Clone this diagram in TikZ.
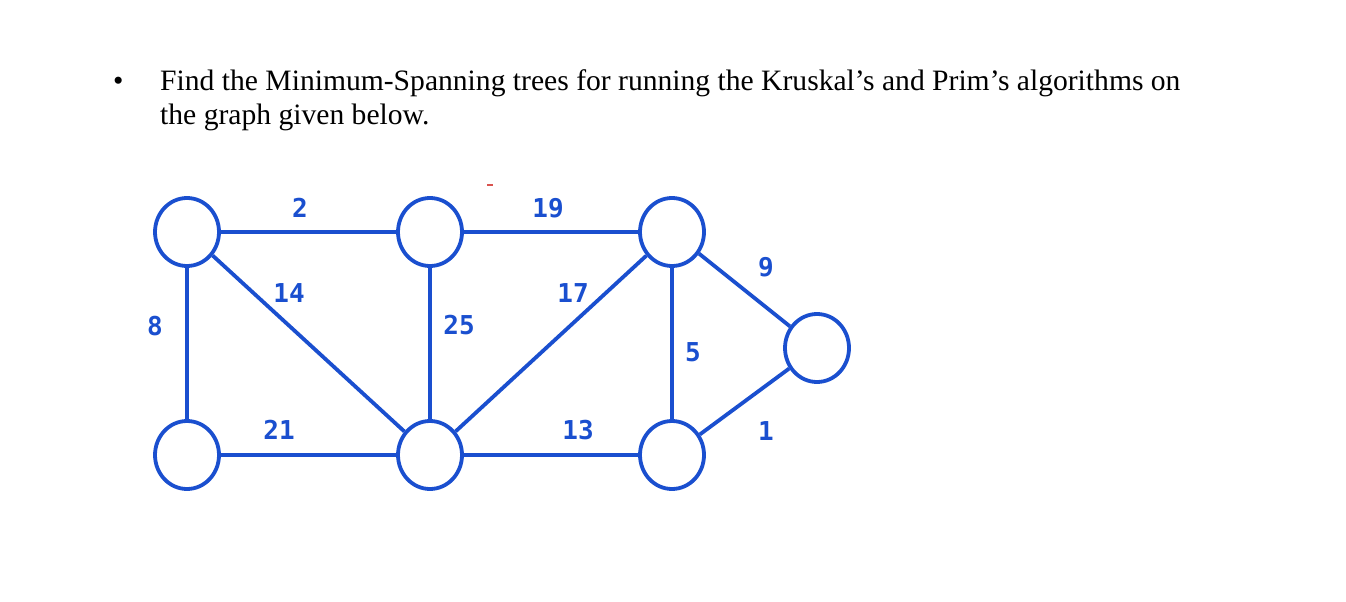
\documentclass[tikz,border=0pt]{standalone}
\usepackage{fontspec}
\usetikzlibrary{shapes.geometric}
\setmainfont{Liberation Serif}
\newfontfamily\numfont{DejaVu Sans Mono}
\definecolor{gblue}{HTML}{1A4FCF}
\definecolor{gred}{HTML}{D9534F}
\begin{document}
\begin{tikzpicture}[x=1pt,y=-1pt,
  vert/.style={draw=gblue,line width=3.8pt,ellipse,minimum width=64pt,minimum height=68pt,inner sep=0pt},
  edge/.style={draw=gblue,line width=3.8pt},
  wlabel/.style={text=gblue,font=\numfont\bfseries\fontsize{26}{30}\selectfont,inner sep=0pt},
  title/.style={font=\fontsize{29.6}{34}\selectfont,anchor=base west,inner sep=0pt}]
\useasboundingbox (0,0) rectangle (1346,602);
\fill[white] (0,0) rectangle (1346,602);
% title
\node[title] (bullet) at (113,90) {\textbullet};
\node[title] (line1) at (160,90) {Find the Minimum-Spanning trees for running the Kruskal’s and Prim’s algorithms on};
\node[title] (line2) at (160,124) {the graph given below.};
% vertices
\node[vert] (A) at (187,232) {};
\node[vert] (B) at (430,232) {};
\node[vert] (C) at (672,232) {};
\node[vert] (D) at (817,348) {};
\node[vert] (E) at (187,455) {};
\node[vert] (F) at (430,455) {};
\node[vert] (G) at (672,455) {};
% edges
\draw[edge] (A) -- (B);
\draw[edge] (B) -- (C);
\draw[edge] (A) -- (E);
\draw[edge] (A) -- (F);
\draw[edge] (B) -- (F);
\draw[edge] (C) -- (F);
\draw[edge] (C) -- (G);
\draw[edge] (C) -- (D);
\draw[edge] (D) -- (G);
\draw[edge] (E) -- (F);
\draw[edge] (F) -- (G);
% weights
\node[wlabel] (w2) at (300,208) {2};
\node[wlabel] (w19) at (548,208) {19};
\node[wlabel] (w14) at (289,293) {14};
\node[wlabel] (w17) at (573,293) {17};
\node[wlabel] (w8) at (155,326) {8};
\node[wlabel] (w25) at (459,325) {25};
\node[wlabel] (w5) at (693,352) {5};
\node[wlabel] (w9) at (766,267) {9};
\node[wlabel] (w21) at (279,430) {21};
\node[wlabel] (w13) at (578,430) {13};
\node[wlabel] (w1) at (766,431) {1};
% small red mark
\draw[gred,line width=2pt] (487,185) -- (493,185);
\end{tikzpicture}
\end{document}
